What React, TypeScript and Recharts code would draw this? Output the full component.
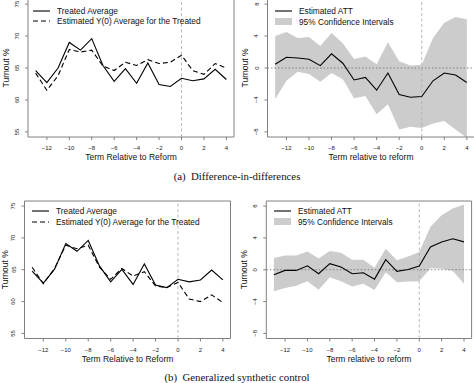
import {
  ComposedChart,
  Line,
  Area,
  XAxis,
  YAxis,
  ReferenceLine,
  ReferenceArea,
  Legend,
  Label,
} from 'recharts'

const terms = [-13, -12, -11, -10, -9, -8, -7, -6, -5, -4, -3, -2, -1, 0, 1, 2, 3, 4]

// (a) difference-in-differences
const didTreated = [64.6, 62.7, 65.0, 69.0, 67.8, 69.6, 65.4, 62.9, 64.9, 62.6, 65.8, 62.4, 62.1, 63.4, 63.0, 63.3, 64.8, 63.2]
const didCounterfactual = [64.2, 61.5, 63.8, 67.9, 67.5, 67.8, 65.3, 64.6, 65.9, 65.4, 66.3, 65.7, 65.9, 67.0, 64.6, 64.0, 65.7, 65.0]
const didAtt = [0.46, 1.35, 1.26, 1.1, 0.3, 1.77, 0.6, -1.5, -1.18, -2.78, -0.63, -3.33, -3.66, -3.58, -1.6, -0.63, -0.88, -1.81]
const didUpper = [4.0, 4.5, 3.75, 3.87, 2.74, 4.38, 3.1, 1.14, 1.43, 0.46, 3.24, 0.84, 0.3, 0.42, 3.75, 5.68, 6.4, 6.1]
const didLower = [-3.9, -1.6, -0.46, -0.76, -1.73, -0.63, -1.4, -3.8, -3.5, -5.8, -4.55, -7.7, -7.37, -7.5, -6.95, -6.65, -7.7, -8.75]

// (b) generalized synthetic control
const gscTreated = [64.8, 62.9, 65.1, 69.1, 67.9, 69.6, 65.6, 63.1, 65.05, 62.7, 65.9, 62.6, 62.2, 63.5, 63.1, 63.4, 64.95, 63.4]
const gscCounterfactual = [65.4, 62.8, 65.2, 68.85, 68.3, 68.85, 65.4, 63.5, 65.2, 64.0, 64.7, 62.45, 62.2, 63.0, 60.4, 60.0, 61.05, 59.85]
const gscAtt = [-0.63, -0.08, -0.08, 0.5, -0.5, 0.76, 0.34, -0.5, -0.38, -1.18, 1.26, -0.2, 0.04, 0.46, 2.86, 3.5, 3.9, 3.5]
const gscUpper = [1.47, 1.8, 1.8, 2.3, 1.4, 2.36, 2.15, 1.26, 1.26, 0.25, 2.65, 1.18, 1.68, 2.23, 5.4, 6.86, 7.7, 8.2]
const gscLower = [-2.7, -2.3, -2.0, -1.43, -2.5, -0.93, -1.43, -2.1, -1.77, -2.53, -0.3, -1.56, -1.47, -1.43, 0.2, 0.13, -0.17, -1.77]

const xTicks = [-12, -10, -8, -6, -4, -2, 0, 2, 4]
const turnoutTicks = [55, 60, 65, 70, 75]
const attTicks = [-8, -4, 0, 4, 8]

const xDomain: [number, number] = [-13.68, 4.68]
const turnoutDomain: [number, number] = [54.2, 75.8]
const attDomain: [number, number] = [-8.64, 8.64]

const SANS = '"Liberation Sans", Arial, sans-serif'
const FRAME = '#808080'

const fmt = (v: number) => (v < 0 ? `\u2212${Math.abs(v)}` : `${v}`)

interface Geo {
  left: number
  top: number
  width: number
  height: number
  pl: number
  pt: number
  pr: number
  pb: number
}

const RotTick = (props: any) => {
  const { x, y, payload } = props
  return (
    <text
      x={x}
      y={y}
      transform={`rotate(-90 ${x} ${y})`}
      textAnchor="middle"
      fontSize={6}
      fill="#222"
      fontFamily={SANS}
    >
      {fmt(payload.value)}
    </text>
  )
}

function LegendBox({ band, labels, rowY }: { band: boolean; labels: string[]; rowY: number[] }) {
  return (
    <svg width={230} height={30} style={{ display: 'block', overflow: 'visible' }}>
      <line x1={0} x2={17} y1={rowY[0]} y2={rowY[0]} stroke="#000" strokeWidth={1.1} />
      {band ? (
        <rect x={0} y={rowY[1] - 3.5} width={17} height={7} fill="#cccccc" />
      ) : (
        <line x1={0} x2={17} y1={rowY[1]} y2={rowY[1]} stroke="#000" strokeWidth={1.1} strokeDasharray="5 3" />
      )}
      {labels.map((l, i) => (
        <text key={l} x={24} y={rowY[i] + 3} fontSize={8.3} fontFamily={SANS} fill="#111">
          {l}
        </text>
      ))}
    </svg>
  )
}

interface PanelProps {
  geo: Geo
  kind: 'levels' | 'att'
  a: number[]
  b: number[]
  c?: number[]
  xTitle: string
  yTitleX: number
  legendLeft: number
  legendTop: number
  rowY: number[]
}

function Panel({ geo, kind, a, b, c, xTitle, yTitleX, legendLeft, legendTop, rowY }: PanelProps) {
  const data = terms.map((t, i) =>
    kind === 'levels'
      ? { t, treated: a[i], cf: b[i] }
      : { t, att: a[i], ci: [b[i], (c as number[])[i]] }
  )
  const yDomain = kind === 'levels' ? turnoutDomain : attDomain
  const yTicks = kind === 'levels' ? turnoutTicks : attTicks
  const yAxisW = geo.pl - geo.left
  const xAxisH = geo.top + geo.height - geo.pb
  const plotCx = (geo.pl + geo.pr) / 2 - geo.left
  const plotCy = (geo.pt + geo.pb) / 2 - geo.top
  const axisY = geo.pb - geo.top

  return (
    <div style={{ position: 'absolute', left: geo.left, top: geo.top }}>
      <ComposedChart
        width={geo.width}
        height={geo.height}
        data={data}
        margin={{ top: geo.pt - geo.top, left: 0, right: geo.left + geo.width - geo.pr, bottom: 0 }}
      >
        <XAxis
          dataKey="t"
          type="number"
          domain={xDomain}
          allowDataOverflow
          ticks={xTicks}
          tickFormatter={fmt}
          height={xAxisH}
          tickSize={3}
          tickMargin={6}
          axisLine={false}
          tickLine={{ stroke: FRAME }}
          tick={{ fontSize: 6, fill: '#222', fontFamily: SANS }}
          interval={0}
        >
          <Label
            content={() => (
              <text x={plotCx} y={axisY + 23} textAnchor="middle" fontSize={8.5} fontFamily={SANS} fill="#111">
                {xTitle}
              </text>
            )}
          />
        </XAxis>
        <YAxis
          type="number"
          domain={yDomain}
          allowDataOverflow
          ticks={yTicks}
          width={yAxisW}
          tickSize={3}
          tickMargin={6}
          axisLine={false}
          tickLine={{ stroke: FRAME }}
          tick={<RotTick />}
          interval={0}
        >
          <Label
            content={() => (
              <text
                x={yTitleX}
                y={plotCy}
                transform={`rotate(-90 ${yTitleX} ${plotCy})`}
                textAnchor="middle"
                fontSize={8.5}
                fontFamily={SANS}
                fill="#111"
              >
                Turnout %
              </text>
            )}
          />
        </YAxis>
        {kind === 'att' && (
          <Area
            dataKey="ci"
            type="linear"
            stroke="none"
            fill="#cccccc"
            fillOpacity={1}
            isAnimationActive={false}
          />
        )}
        {kind === 'att' && <ReferenceLine y={0} stroke="#777" strokeDasharray="1.5 2" strokeWidth={0.9} />}
        <ReferenceLine x={0} stroke="#b0b0b0" strokeDasharray="3 2.5" strokeWidth={0.9} />
        <ReferenceArea
          x1={xDomain[0]}
          x2={xDomain[1]}
          y1={yDomain[0]}
          y2={yDomain[1]}
          fill="none"
          stroke={FRAME}
          strokeWidth={1}
        />
        {kind === 'levels' ? (
          <>
            <Line dataKey="cf" type="linear" stroke="#000" strokeWidth={1.1} strokeDasharray="5 3" dot={false} isAnimationActive={false} />
            <Line dataKey="treated" type="linear" stroke="#000" strokeWidth={1.1} dot={false} isAnimationActive={false} />
          </>
        ) : (
          <Line dataKey="att" type="linear" stroke="#000" strokeWidth={1.1} dot={false} isAnimationActive={false} />
        )}
        <Legend
          layout="horizontal"
          verticalAlign="middle"
          align="center"
          wrapperStyle={{ left: legendLeft, top: legendTop, width: 230, height: 30 }}
          content={() => (
            <LegendBox
              band={kind === 'att'}
              rowY={rowY}
              labels={
                kind === 'levels'
                  ? ['Treated Average', 'Estimated Y(0) Average for the Treated']
                  : ['Estimated ATT', '95% Confidence Intervals']
              }
            />
          )}
        />
      </ComposedChart>
    </div>
  )
}

export default function App() {
  const caption = {
    position: 'absolute' as const,
    left: 0,
    width: 474,
    textAlign: 'center' as const,
    fontFamily: '"Liberation Serif", "Times New Roman", serif',
    fontSize: 10.8,
    color: '#111',
    whiteSpace: 'pre' as const,
  }
  return (
    <div style={{ position: 'absolute', left: 0, top: 0, width: 474, height: 383, background: '#fff', overflow: 'hidden' }}>
      <Panel
        geo={{ left: 0, top: 0, width: 237, height: 170, pl: 28, pt: -1, pr: 234, pb: 137 }}
        kind="levels"
        a={didTreated}
        b={didCounterfactual}
        xTitle="Term Relative to Reform"
        yTitleX={9}
        legendLeft={33}
        legendTop={0}
        rowY={[11, 21]}
      />
      <Panel
        geo={{ left: 237, top: 0, width: 237, height: 170, pl: 267.5, pt: -1, pr: 474.5, pb: 137 }}
        kind="att"
        a={didAtt}
        b={didLower}
        c={didUpper}
        xTitle="Term relative to reform"
        yTitleX={11}
        legendLeft={38}
        legendTop={0}
        rowY={[11, 21.5]}
      />
      <Panel
        geo={{ left: 0, top: 190, width: 237, height: 180, pl: 24.5, pt: 201, pr: 230.5, pb: 338.5 }}
        kind="levels"
        a={gscTreated}
        b={gscCounterfactual}
        xTitle="Term Relative to Reform"
        yTitleX={8}
        legendLeft={32}
        legendTop={0}
        rowY={[21, 32]}
      />
      <Panel
        geo={{ left: 237, top: 190, width: 237, height: 180, pl: 266.3, pt: 201, pr: 471.6, pb: 338.5 }}
        kind="att"
        a={gscAtt}
        b={gscLower}
        c={gscUpper}
        xTitle="Term relative to reform"
        yTitleX={10}
        legendLeft={37}
        legendTop={0}
        rowY={[21, 31.5]}
      />
      <div style={{ ...caption, top: 170 }}>(a)  Difference-in-differences</div>
      <div style={{ ...caption, top: 371 }}>(b)  Generalized synthetic control</div>
    </div>
  )
}
